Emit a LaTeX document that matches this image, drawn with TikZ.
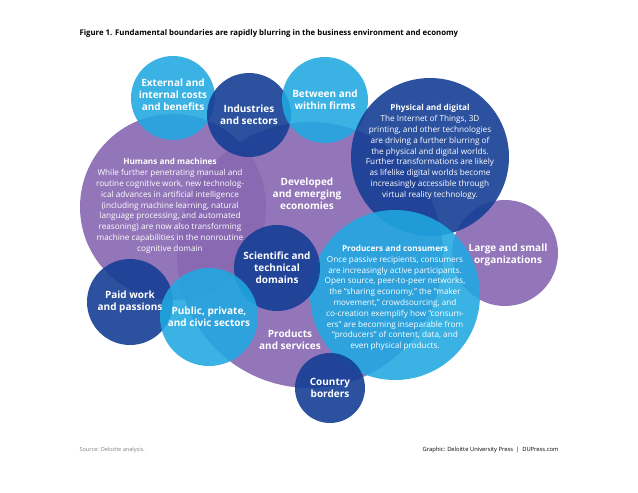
\documentclass[tikz,border=0pt]{standalone}
\usepackage{fontspec}
\setmainfont{Open Sans}
\begin{document}
\begin{tikzpicture}[x=1pt,y=-1pt,
  lb/.style={fill=lblue,fill opacity=0.88},
  db/.style={fill=dblue,fill opacity=0.9},
  pu/.style={fill=purp,fill opacity=0.9},
  lab/.style={text=white,align=center,font=\fontsize{8.2}{10.8}\selectfont},
  hd/.style={font=\bfseries}]
\definecolor{lblue}{HTML}{1FA9E1}
\definecolor{dblue}{HTML}{163F95}
\definecolor{purp}{HTML}{8868B2}
\useasboundingbox (0,0) rectangle (638,493);
\fill[white] (0,0) rectangle (638,493);
\node[anchor=west,font=\bfseries\fontsize{7.8}{9}\selectfont] (title) at (76,33) {Figure 1. Fundamental boundaries are rapidly blurring in the business environment and economy};
% circles
\fill[pu] (310,255) circle (133);
\fill[pu] (173,207) circle (93);
\fill[pu] (505,253) circle (53);
\fill[lb] (173,98) circle (42);
\fill[db] (249,115) circle (42);
\fill[lb] (325,100) circle (43);
\fill[db] (430,157) circle (79);
\fill[lb] (395,295) circle (85);
\fill[db] (277,268) circle (43);
\fill[db] (130,302) circle (43);
\fill[lb] (209,317) circle (49);
\fill[db] (330,388) circle (35);
% labels
\node[lab,hd] (ext) at (173,95) {External and\\internal costs\\and benefits};
\node[lab,hd] (ind) at (249,115) {Industries\\and sectors};
\node[lab,hd] (bet) at (325,100) {Between and\\within firms};
\node[lab] (phy) at (430,152) {\textbf{Physical and digital}\\The Internet of Things, 3D\\printing, and other technologies\\are driving a further blurring of\\the physical and digital worlds.\\Further transformations are likely\\as lifelike digital worlds become\\increasingly accessible through\\virtual reality technology.};
\node[lab] (hum) at (170,206) {\textbf{Humans and machines}\\While further penetrating manual and\\routine cognitive work, new technolog-\\ical advances in artificial intelligence\\(including machine learning, natural\\language processing, and automated\\reasoning) are now also transforming\\machine capabilities in the nonroutine\\cognitive domain};
\node[lab,hd] (dev) at (307,194) {Developed\\and emerging\\economies};
\node[lab,hd] (lar) at (508,255) {Large and small\\organizations};
\node[lab,hd] (sci) at (277,268) {Scientific and\\technical\\domains};
\node[lab] (pro) at (395,298) {\textbf{Producers and consumers}\\Once passive recipients, consumers\\are increasingly active participants.\\Open source, peer-to-peer networks,\\the “sharing economy,” the “maker\\movement,” crowdsourcing, and\\co-creation exemplify how “consum-\\ers” are becoming inseparable from\\“producers” of content, data, and\\even physical products.};
\node[lab,hd] (paid) at (130,302) {Paid work\\and passions};
\node[lab,hd] (pub) at (209,317) {Public, private,\\and civic sectors};
\node[lab,hd] (prod) at (290,340) {Products\\and services};
\node[lab,hd] (cou) at (330,388) {Country\\borders};
\node[anchor=west,text=gray,font=\fontsize{5.6}{7}\selectfont] (src) at (76,450) {Source: Deloitte analysis.};
\node[anchor=east,font=\fontsize{5.8}{7}\selectfont] (gr) at (562,450) {Graphic: Deloitte University Press \ \textbar\ \ DUPress.com};
\end{tikzpicture}
\end{document}
